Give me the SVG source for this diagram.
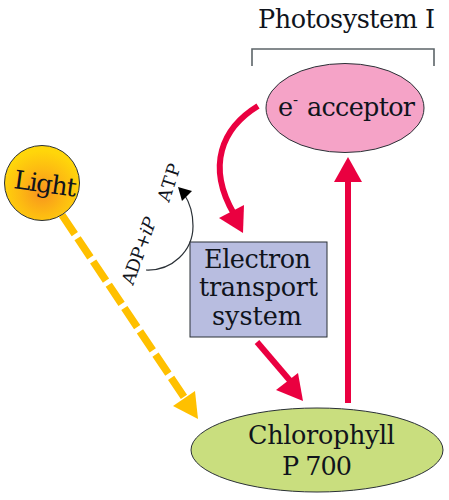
<svg xmlns="http://www.w3.org/2000/svg" width="449" height="500" viewBox="0 0 449 500">
<defs>
<radialGradient id="lg" cx="0.5" cy="0.62" r="0.55"><stop offset="0" stop-color="#f7931e"/><stop offset="0.55" stop-color="#fdba12"/><stop offset="1" stop-color="#ffd60a"/></radialGradient>
</defs>
<style>
text{font-family:"DejaVu Serif","Liberation Serif",serif;fill:#10141c}
.n{stroke:#2a3036;stroke-width:1}
.m{font-size:25.500px}
.r{fill:none;stroke:#ea0040;stroke-width:6}
.rh{fill:#ea0040}
.y{fill:none;stroke:#ffc000;stroke-width:7.500;stroke-dasharray:23 5}
.yh{fill:#ffc000}
</style>
<g id="connectors">
<path class="r" d="M258 106C222 128 206 166 234 214"/>
<polygon class="rh" points="243,233 219,218 244,205"/>
<path class="r" d="M348 403V180"/>
<polygon class="rh" points="348,157 362,182 334,182"/>
<path class="r" d="M257 342L292 383"/>
<polygon class="rh" points="303,401 276,390 298,373"/>
<path class="y" d="M62 215L186 400"/>
<polygon class="yh" points="198,419 173,406 195,391"/>
<path d="M146 270C172 271 193 251 193 226C193 211 188 200 184 194" fill="none" stroke="#2a3036" stroke-width="1.200"/>
<polygon fill="#000" points="178,187 192,191 182,201"/>
<path d="M252 66V49H434V66" fill="none" stroke="#5c6468" stroke-width="1.600"/>
</g>
<g id="light"><circle class="n" cx="42" cy="183" r="37.500" fill="url(#lg)"/>
<text x="13" y="188" class="m" transform="rotate(8 13 188)" textLength="63">Light</text></g>
<g id="photosystem"><text x="258" y="28" class="m" textLength="177">Photosystem I</text></g>
<g id="acceptor"><ellipse class="n" cx="345" cy="108" rx="79" ry="44.500" fill="#f5a3c7"/>
<text x="278" y="116" class="m">e<tspan dy="-11" font-size="15">-</tspan><tspan dy="11" x="307" textLength="108">acceptor</tspan></text></g>
<g id="ets"><rect class="n" x="190" y="242" width="137" height="95" fill="#b8bde0" stroke-width="1.300"/>
<text x="204" y="268" class="m" textLength="107">Electron</text><text x="199" y="296" class="m" textLength="119">transport</text><text x="212" y="325" class="m" textLength="90">system</text></g>
<g id="chlorophyll"><ellipse class="n" cx="317" cy="450" rx="126" ry="42" fill="#c9de7e"/>
<text x="248" y="444" class="m" textLength="147">Chlorophyll</text><text x="282" y="475" class="m" textLength="70">P 700</text></g>
<g id="adp"><text x="0" y="0" font-size="18" transform="translate(133 286) rotate(-70)" textLength="70">ADP+<tspan font-style="italic">iP</tspan></text></g>
<g id="atp"><text x="0" y="0" font-size="18" transform="translate(169 203) rotate(-72)" textLength="39">ATP</text></g>
</svg>
